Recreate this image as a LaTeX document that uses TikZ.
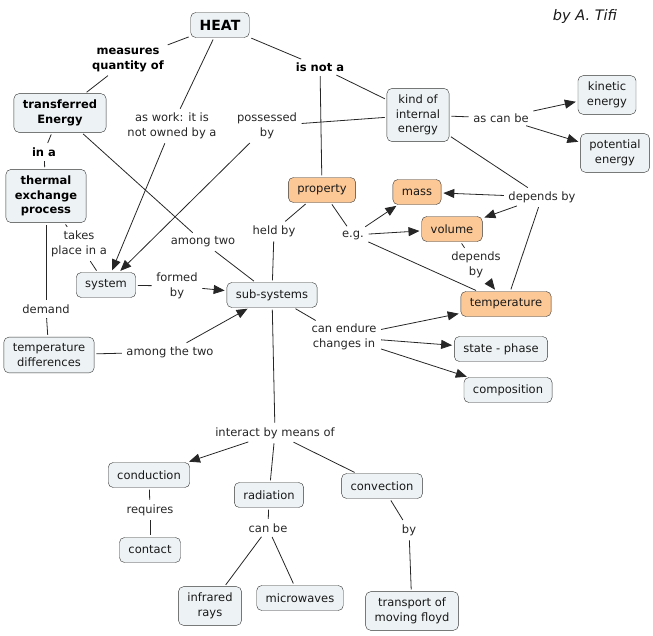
\documentclass[tikz,border=0pt]{standalone}
\usepackage{fontspec}
\setmainfont{DejaVu Sans}
\usetikzlibrary{arrows.meta}

\definecolor{conceptblue}{HTML}{EDF2F4}
\definecolor{conceptorange}{HTML}{FCC896}

\begin{document}
\begin{tikzpicture}[
    x=1pt, y=-1pt,
    font=\fontsize{11.5}{14.5}\selectfont,
    >={Triangle[length=11pt, width=9pt]},
    concept/.style={
        draw=black!80, rounded corners=5pt,
        fill=conceptblue, text=black!90,
        align=center, inner xsep=9pt, inner ysep=6.5pt,
        minimum height=25pt
    },
    hot/.style={concept, fill=conceptorange},
    key/.style={concept, font=\fontsize{11.5}{14.5}\selectfont\bfseries, text=black},
    linkword/.style={inner sep=2.5pt, align=center, text=black!85},
    keyword/.style={linkword, font=\fontsize{11.5}{14.5}\selectfont\bfseries, text=black},
    link/.style={draw=black!85, line width=0.8pt, shorten <=2pt, shorten >=2pt},
    arrow/.style={link, ->}
]
\useasboundingbox (0,0) rectangle (653,635);

% Concepts
\node[key, font=\fontsize{14}{16}\selectfont\bfseries] (heat) at (220,25) {HEAT};
\node[key] (transferred) at (60,113) {transferred\\Energy};
\node[key] (thermal) at (46,196) {thermal\\exchange\\process};
\node[concept] (system) at (106,285) {system};
\node[concept] (subsys) at (272,295) {sub-systems};
\node[concept] (tdiff) at (49,355) {temperature\\differences};
\node[concept] (kind) at (418,115) {kind of\\internal\\energy};
\node[concept] (kinetic) at (607,95) {kinetic\\energy};
\node[concept] (potential) at (615,153) {potential\\energy};
\node[hot] (property) at (322,190) {property};
\node[hot] (mass) at (417,192) {mass};
\node[hot] (volume) at (452,229) {volume};
\node[hot] (temp) at (506,304) {temperature};
\node[concept] (state) at (501,349) {state - phase};
\node[concept] (compo) at (508,390) {composition};
\node[concept] (conduction) at (149,475) {conduction};
\node[concept] (radiation) at (269,495) {radiation};
\node[concept] (convection) at (382,486) {convection};
\node[concept] (contact) at (150,550) {contact};
\node[concept] (infrared) at (210,606) {infrared\\rays};
\node[concept] (micro) at (300,598) {microwaves};
\node[concept] (transport) at (412,611) {transport of\\moving floyd};

% Linking words
\node[keyword] (measures) at (128,60) {measures\\quantity of};
\node[keyword] (isnot) at (320,67) {is not a};
\node[keyword] (ina) at (44,152) {in a};
\node[linkword] (aswork) at (172,126) {as work: it is\\not owned by a};
\node[linkword] (possessed) at (267,126) {possessed\\by};
\node[linkword] (ascanbe) at (501,118) {as can be};
\node[linkword] (takes) at (79,244) {takes\\place in a};
\node[linkword] (amongtwo) at (203,242) {among two};
\node[linkword] (formed) at (177,286) {formed\\by};
\node[linkword] (demand) at (46,309) {demand};
\node[linkword] (amongthe) at (170,352) {among the two};
\node[linkword] (heldby) at (274,231) {held by};
\node[linkword] (eg) at (353,235) {e.g.};
\node[linkword] (depends) at (542,197) {depends by};
\node[linkword] (dependsb) at (476,265) {depends\\by};
\node[linkword] (endure) at (344,337) {can endure\\changes in};
\node[linkword] (interact) at (275,433) {interact by means of};
\node[linkword] (requires) at (150,510) {requires};
\node[linkword] (canbe) at (268,528) {can be};
\node[linkword] (by) at (409,530) {by};

% Author
\node[font=\fontsize{14.5}{17}\selectfont\itshape, text=black!90] (author) at (585,16) {by A. Tifi};

% Connections
\draw[link] (heat) -- (measures);
\draw[link] (measures) -- (transferred);
\draw[link] (transferred) -- (ina);
\draw[link] (ina) -- (thermal);
\draw[link] (thermal) -- (takes);
\draw[link] (takes) -- (system);
\draw[link] (thermal) -- (demand);
\draw[link] (demand) -- (tdiff);
\draw[link] (tdiff) -- (amongthe);
\draw[arrow] (amongthe) -- (subsys);
\draw[link] (system) -- (formed);
\draw[arrow] (formed) -- (subsys);
\draw[link] (transferred) -- (amongtwo);
\draw[link] (amongtwo) -- (subsys);
\draw[link] (heat) -- (aswork);
\draw[arrow] (aswork) -- (system);
\draw[link] (kind) -- (possessed);
\draw[arrow] (possessed) -- (system);
\draw[link] (heat) -- (isnot);
\draw[link] (isnot) -- (kind);
\draw[link] (isnot) -- (property);
\draw[link] (kind) -- (ascanbe);
\draw[arrow] (ascanbe) -- (kinetic);
\draw[arrow] (ascanbe) -- (potential);
\draw[link] (property) -- (heldby);
\draw[link] (heldby) -- (subsys);
\draw[link] (property) -- (eg);
\draw[arrow] (eg) -- (mass);
\draw[arrow] (eg) -- (volume);
\draw[link] (eg) -- (temp);
\draw[link] (kind) -- (depends);
\draw[arrow] (depends) -- (mass);
\draw[arrow] (depends) -- (volume);
\draw[link] (depends) -- (temp);
\draw[link] (volume) -- (dependsb);
\draw[arrow] (dependsb) -- (temp);
\draw[link] (subsys) -- (endure);
\draw[arrow] (endure) -- (temp);
\draw[arrow] (endure) -- (state);
\draw[arrow] (endure) -- (compo);
\draw[link] (subsys) -- (interact);
\draw[arrow] (interact) -- (conduction);
\draw[link] (interact) -- (radiation);
\draw[link] (interact) -- (convection);
\draw[link] (conduction) -- (requires);
\draw[link] (requires) -- (contact);
\draw[link] (radiation) -- (canbe);
\draw[link] (canbe) -- (infrared);
\draw[link] (canbe) -- (micro);
\draw[link] (convection) -- (by);
\draw[link] (by) -- (transport);

\end{tikzpicture}
\end{document}
